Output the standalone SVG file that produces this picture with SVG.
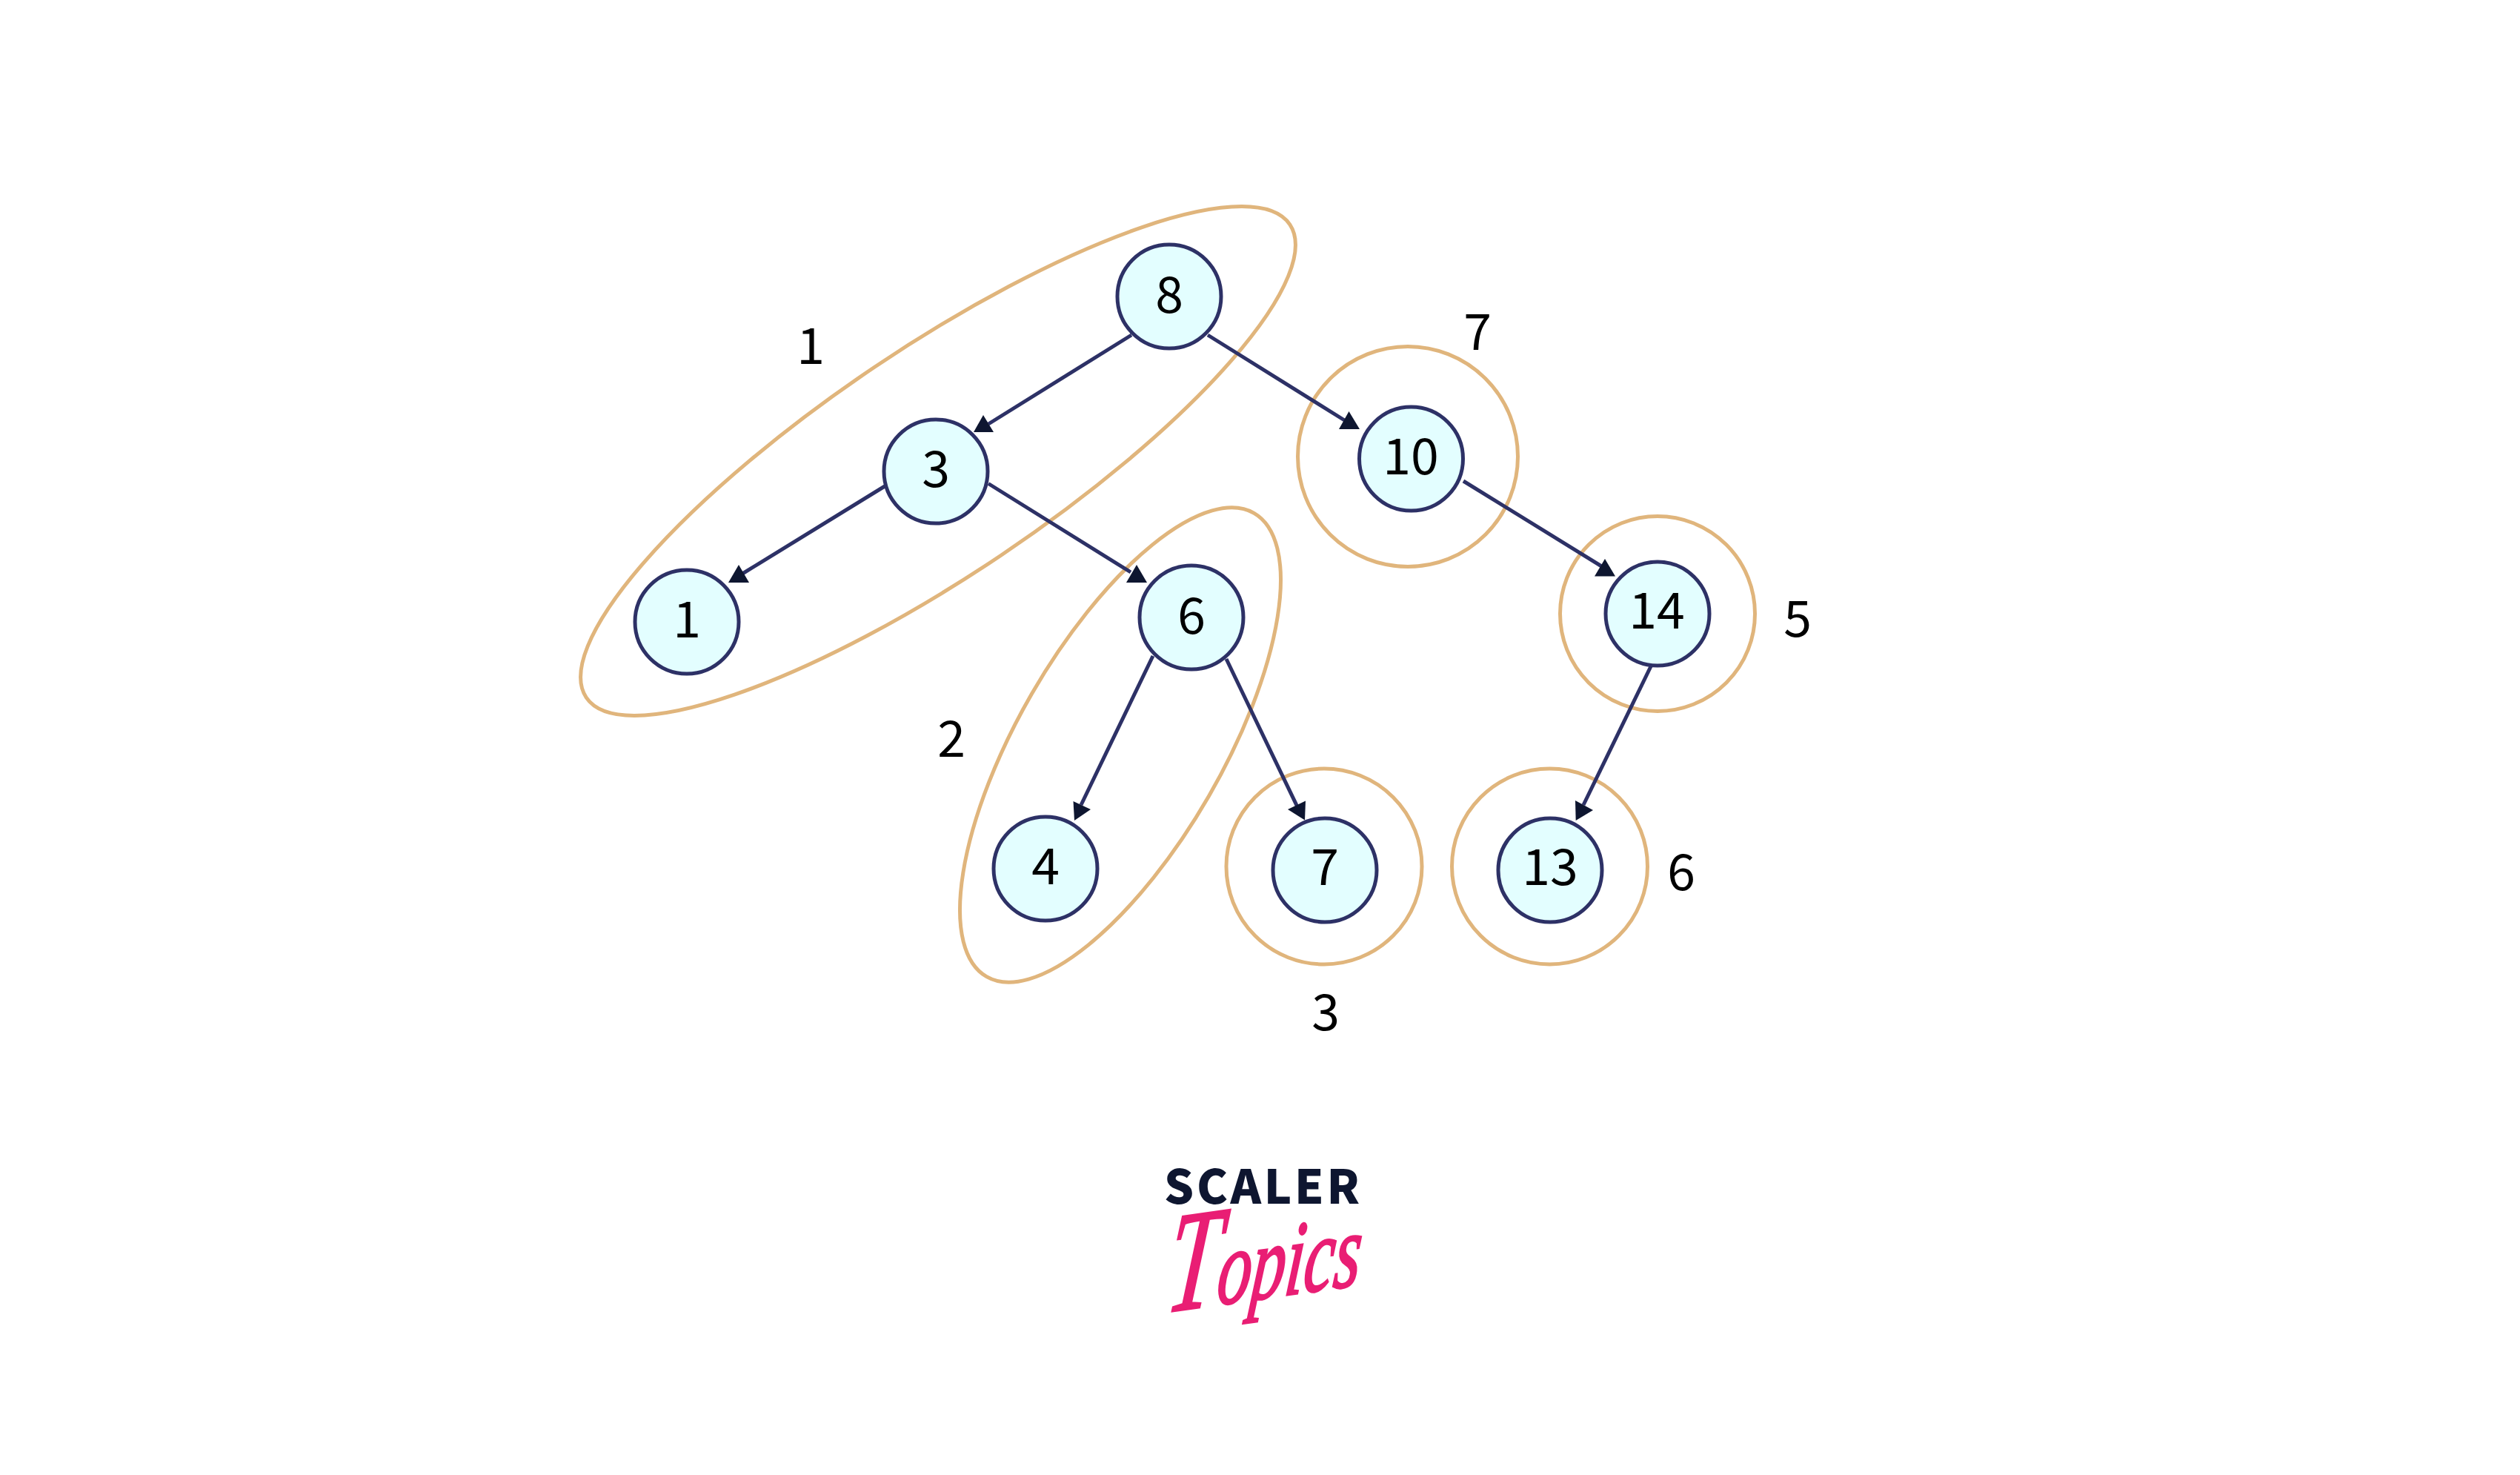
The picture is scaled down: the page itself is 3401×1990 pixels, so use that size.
<svg xmlns="http://www.w3.org/2000/svg" width="3401" height="1990" viewBox="0 0 3401 1990">
<style>
text{font-family:"Noto Sans CJK JP","Noto Sans",sans-serif;fill:#000;font-size:68px;text-anchor:middle}
.n{fill:#e3feff;stroke:#2d3166;stroke-width:5}
.h{fill:none;stroke:#e0b57c;stroke-width:5}
.c{stroke:#2d3166;stroke-width:5;fill:none}
.a{fill:#0e1630}
</style>
<rect width="3401" height="1990" fill="#fff"/>
<g id="highlights">
<ellipse class="h" cx="1266" cy="622" rx="572" ry="153" transform="rotate(-33.9 1266 622)"/>
<ellipse class="h" cx="1512" cy="1005" rx="361" ry="138" transform="rotate(-60 1512 1005)"/>
<circle class="h" cx="1900" cy="616" r="148.500"/>
<circle class="h" cx="2237" cy="828" r="131.500"/>
<circle class="h" cx="1787" cy="1169" r="132"/>
<circle class="h" cx="2091.5" cy="1169" r="132"/>
</g>
<g id="connectors">
<path class="c" d="M1527 452L1334 572"/>
<path class="c" d="M1630 452L1814.5 567"/>
<path class="c" d="M1194 656L1002 774"/>
<path class="c" d="M1334 652.500L1526 772"/>
<path class="c" d="M1556 885L1459 1086"/>
<path class="c" d="M1655 889L1751 1088.600"/>
<path class="c" d="M1975 649L2163 765"/>
<path class="c" d="M2228 899L2137 1086"/>
<polygon class="a" points="1327,560 1314,583 1341,583"/>
<polygon class="a" points="1820.500,555 1807,579 1835,579"/>
<polygon class="a" points="997,762 983,786 1011,786"/>
<polygon class="a" points="1534,762 1520,786 1548,786"/>
<polygon class="a" points="1448.500,1081 1472,1092 1450,1107"/>
<polygon class="a" points="1762,1080.500 1738,1092 1761,1106.400"/>
<polygon class="a" points="2166,754 2152,777.500 2180,777.500"/>
<polygon class="a" points="2126,1080 2150,1093 2126.700,1107"/>
</g>
<g id="node-8"><circle class="n" cx="1578" cy="400" r="70"/><text x="1578" y="422">8</text></g>
<g id="node-3"><circle class="n" cx="1263" cy="636" r="70"/><text x="1263" y="657">3</text></g>
<g id="node-1"><circle class="n" cx="927" cy="839" r="70"/><text x="927" y="860">1</text></g>
<g id="node-6"><circle class="n" cx="1608" cy="833" r="70"/><text x="1608" y="855">6</text></g>
<g id="node-10"><circle class="n" cx="1904.5" cy="619" r="70"/><text x="1904" y="640">10</text></g>
<g id="node-14"><circle class="n" cx="2237" cy="828" r="70"/><text x="2236" y="848">14</text></g>
<g id="node-4"><circle class="n" cx="1411" cy="1172" r="70"/><text x="1411" y="1193">4</text></g>
<g id="node-7"><circle class="n" cx="1788" cy="1174" r="70"/><text x="1788" y="1194">7</text></g>
<g id="node-13"><circle class="n" cx="2092" cy="1174" r="70"/><text x="2092" y="1194">13</text></g>
<g id="labels">
<text x="1094" y="491">1</text>
<text x="1284" y="1021">2</text>
<text x="1789" y="1390">3</text>
<text x="2426" y="859">5</text>
<text x="2269" y="1201">6</text>
<text x="1994" y="472">7</text>
</g>
<g id="logo">
<text x="1703" y="1624" textLength="264" style="font-weight:900;font-size:63px;fill:#0e1630">SCALER</text>
<text transform="translate(1702 1752) rotate(-8) skewX(-14) scale(.66 1)" style="font-family:'Liberation Serif',serif;font-style:italic;font-size:140px;fill:#e91e74;stroke:#e91e74;stroke-width:3"><tspan style="font-size:190px">T</tspan>opics</text>
</g>
</svg>
